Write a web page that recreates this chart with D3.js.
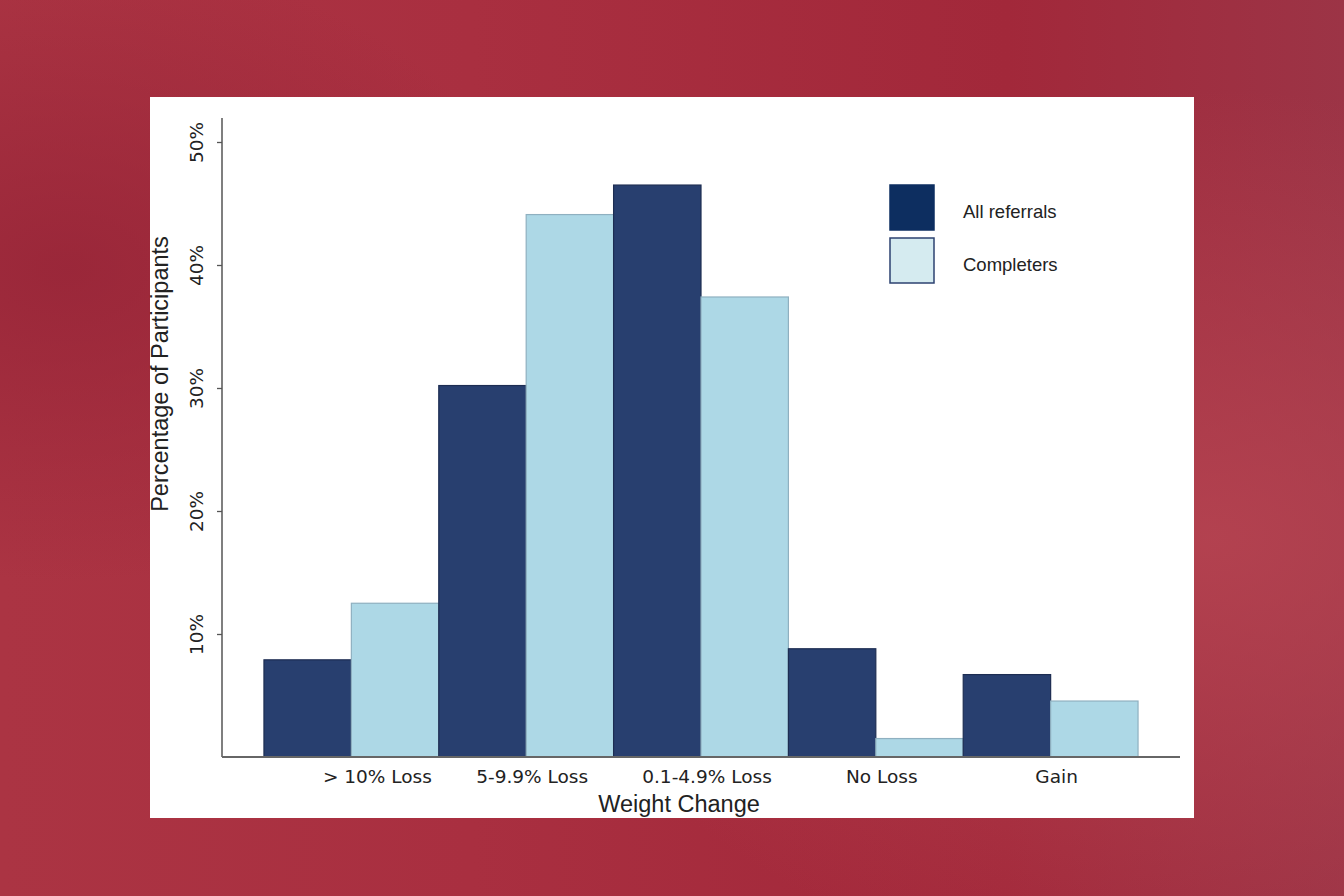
<!DOCTYPE html>
<html>
<head>
<meta charset="utf-8">
<script src="https://cdn.jsdelivr.net/npm/d3@7"></script>
<style>
  body { margin: 0; padding: 0; overflow: hidden; }
  svg { display: block; }
</style>
</head>
<body>
<div id="chart"></div>
<script>
// data
const categories = ["> 10% Loss", "5-9.9% Loss", "0.1-4.9% Loss", "No Loss", "Gain"];
const seriesNames = ["All referrals", "Completers"];
const allReferrals = [7.9, 30.2, 46.5, 8.8, 6.7];
const completers = [12.5, 44.1, 37.4, 1.5, 4.55];
const yTicks = [10, 20, 30, 40, 50];

function getConfig() {
  let width = 1344;
  let height = 896;
  // white card in the middle of the red backdrop
  let panel = { x: 150, y: 97, w: 1044, h: 721 };
  let plot = { left: 222, right: 1180, top: 118, bottom: 757 };
  let container = d3.select("#chart");
  return { width, height, panel, plot, container };
}

function getScales(config) {
  let { plot } = config;
  let xScale = d3.scaleBand()
    .domain(categories)
    .range([plot.left, plot.right])
    .paddingInner(0)
    .paddingOuter(0.24);

  let subScale = d3.scaleBand()
    .domain(seriesNames)
    .range([0, xScale.bandwidth()]);

  // 10% per ~123px
  let yScale = d3.scaleLinear()
    .domain([0, 10])
    .range([plot.bottom, plot.bottom - 123]);

  return { xScale, subScale, yScale };
}

function drawBackground(svg, config) {
  let { width, height, panel } = config;
  let defs = svg.append("defs");

  let lg = defs.append("linearGradient").attr("id", "bgGrad")
    .attr("x1", "0").attr("y1", "0").attr("x2", "1").attr("y2", "0");
  lg.append("stop").attr("offset", "0%").attr("stop-color", "#ab3443");
  lg.append("stop").attr("offset", "35%").attr("stop-color", "#a92f40");
  lg.append("stop").attr("offset", "75%").attr("stop-color", "#a2283a");
  lg.append("stop").attr("offset", "100%").attr("stop-color", "#9c3446");

  let rg = defs.append("radialGradient").attr("id", "glow")
    .attr("cx", "0.9").attr("cy", "0.6").attr("r", "0.5");
  rg.append("stop").attr("offset", "0%").attr("stop-color", "#b84653").attr("stop-opacity", 0.8);
  rg.append("stop").attr("offset", "100%").attr("stop-color", "#b84653").attr("stop-opacity", 0);

  let rg2 = defs.append("radialGradient").attr("id", "shade")
    .attr("cx", "0.05").attr("cy", "0.3").attr("r", "0.35");
  rg2.append("stop").attr("offset", "0%").attr("stop-color", "#962437").attr("stop-opacity", 0.8);
  rg2.append("stop").attr("offset", "100%").attr("stop-color", "#962437").attr("stop-opacity", 0);

  svg.append("rect").attr("width", width).attr("height", height).attr("fill", "url(#bgGrad)");
  svg.append("rect").attr("width", width).attr("height", height).attr("fill", "url(#glow)");
  svg.append("rect").attr("width", width).attr("height", height).attr("fill", "url(#shade)");

  svg.append("rect")
    .attr("x", panel.x).attr("y", panel.y)
    .attr("width", panel.w).attr("height", panel.h)
    .attr("fill", "#ffffff");
}

function drawBars(svg, config, scales) {
  let { xScale, subScale, yScale } = scales;
  let fills = { "All referrals": "#283f6f", "Completers": "#add8e6" };
  let strokes = { "All referrals": "#1d2d52", "Completers": "#8fb0c0" };

  let rows = categories.map((c, i) => ({
    key: c,
    values: [
      { series: "All referrals", value: allReferrals[i] },
      { series: "Completers", value: completers[i] }
    ]
  }));

  let groups = svg.selectAll(".group")
    .data(rows)
    .enter()
    .append("g")
    .attr("class", "group")
    .attr("transform", d => "translate(" + xScale(d.key) + ",0)");

  groups.selectAll("rect")
    .data(d => d.values)
    .enter()
    .append("rect")
    .attr("x", d => subScale(d.series))
    .attr("y", d => yScale(d.value))
    .attr("width", subScale.bandwidth())
    .attr("height", d => yScale(0) - yScale(d.value))
    .attr("fill", d => fills[d.series])
    .attr("stroke", d => strokes[d.series])
    .attr("stroke-width", 1.2);
}

function drawAxes(svg, config, scales) {
  let { plot } = config;
  let { xScale, yScale } = scales;

  // y axis
  let yAxis = svg.append("g")
    .attr("transform", "translate(" + plot.left + ",0)")
    .call(d3.axisLeft(yScale).tickValues(yTicks).tickSize(5).tickFormat(d => d + "%"));
  yAxis.select(".domain").remove();
  yAxis.selectAll(".tick line").attr("stroke", "#555").attr("stroke-width", 1.3);
  yAxis.selectAll(".tick text")
    .attr("x", 0).attr("dy", 0)
    .attr("transform", "translate(-19,0) rotate(-90)")
    .style("text-anchor", "middle")
    .style("font-family", "DejaVu Sans, Verdana, sans-serif")
    .style("font-size", "18.5px")
    .attr("fill", "#222");

  svg.append("line")
    .attr("x1", plot.left).attr("x2", plot.left)
    .attr("y1", plot.top).attr("y2", plot.bottom)
    .attr("stroke", "#555").attr("stroke-width", 1.5);

  // x axis
  let xAxis = svg.append("g")
    .attr("transform", "translate(0," + plot.bottom + ")")
    .call(d3.axisBottom(xScale).tickSize(0));
  xAxis.select(".domain").remove();
  // first label sits a bit right of its group in the original
  xAxis.selectAll(".tick text")
    .attr("y", 13).attr("dx", (d, i) => i === 0 ? 26 : 6).attr("dy", "0.71em")
    .style("font-family", "DejaVu Sans, Verdana, sans-serif")
    .style("font-size", "18.5px")
    .attr("fill", "#222");

  svg.append("line")
    .attr("x1", plot.left).attr("x2", plot.right)
    .attr("y1", plot.bottom).attr("y2", plot.bottom)
    .attr("stroke", "#666").attr("stroke-width", 1.8);

  // axis titles
  svg.append("text")
    .attr("x", 679)
    .attr("y", 812)
    .attr("text-anchor", "middle")
    .style("font-family", "Liberation Sans, Arial, sans-serif")
    .style("font-size", "23.5px")
    .attr("fill", "#222")
    .text("Weight Change");

  svg.append("text")
    .attr("transform", "translate(168,374) rotate(-90)")
    .attr("text-anchor", "middle")
    .style("font-family", "Liberation Sans, Arial, sans-serif")
    .style("font-size", "23.5px")
    .attr("fill", "#222")
    .text("Percentage of Participants");
}

function drawLegend(svg) {
  let legendFills = ["#0d2e60", "#d5ebf0"];
  let legendStrokes = ["#0d2e60", "#2c4270"];
  let legend = svg.append("g").attr("transform", "translate(890,185)");

  let items = legend.selectAll(".item")
    .data(seriesNames)
    .enter()
    .append("g")
    .attr("class", "item")
    .attr("transform", (d, i) => "translate(0," + (i * 53) + ")");

  items.append("rect")
    .attr("width", 44).attr("height", 45)
    .attr("fill", (d, i) => legendFills[i])
    .attr("stroke", (d, i) => legendStrokes[i])
    .attr("stroke-width", 1.5);

  items.append("text")
    .attr("x", 73).attr("y", 33)
    .style("font-family", "Liberation Sans, Arial, sans-serif")
    .style("font-size", "18.5px")
    .attr("fill", "#222")
    .text(d => d);
}

let config = getConfig();
let svg = config.container.append("svg")
  .attr("width", config.width)
  .attr("height", config.height);
drawBackground(svg, config);
let scales = getScales(config);
drawBars(svg, config, scales);
drawAxes(svg, config, scales);
drawLegend(svg);
</script>
</body>
</html>
